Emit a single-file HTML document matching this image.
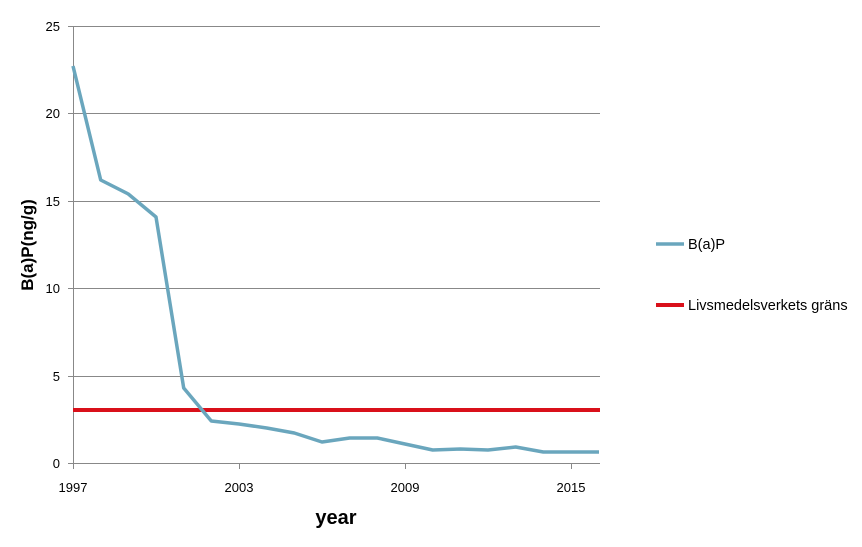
<!DOCTYPE html>
<html><head><meta charset="utf-8"><style>
body{margin:0;background:#fff;}
svg text{font-family:"Liberation Sans",sans-serif;}
</style></head><body>
<svg width="862" height="542" viewBox="0 0 862 542" xmlns="http://www.w3.org/2000/svg">
<g stroke="#888" stroke-width="1">
<line x1="73" y1="26.5" x2="600" y2="26.5"/>
<line x1="73" y1="113.5" x2="600" y2="113.5"/>
<line x1="73" y1="201.5" x2="600" y2="201.5"/>
<line x1="73" y1="288.5" x2="600" y2="288.5"/>
<line x1="73" y1="376.5" x2="600" y2="376.5"/>
<line x1="73" y1="463.5" x2="600" y2="463.5"/>
<line x1="73.5" y1="26" x2="73.5" y2="463"/>
<line x1="68" y1="26.5" x2="73" y2="26.5"/>
<line x1="68" y1="113.5" x2="73" y2="113.5"/>
<line x1="68" y1="201.5" x2="73" y2="201.5"/>
<line x1="68" y1="288.5" x2="73" y2="288.5"/>
<line x1="68" y1="376.5" x2="73" y2="376.5"/>
<line x1="68" y1="463.5" x2="73" y2="463.5"/>
<line x1="73.5" y1="463" x2="73.5" y2="469"/>
<line x1="239.5" y1="463" x2="239.5" y2="469"/>
<line x1="405.5" y1="463" x2="405.5" y2="469"/>
<line x1="571.5" y1="463" x2="571.5" y2="469"/>
</g>
<g font-size="13" fill="#000" text-anchor="end">
<text x="60" y="31">25</text><text x="60" y="118">20</text><text x="60" y="206">15</text>
<text x="60" y="293">10</text><text x="60" y="381">5</text><text x="60" y="468">0</text>
</g>
<g font-size="13" fill="#000" text-anchor="middle">
<text x="73" y="492">1997</text><text x="239" y="492">2003</text><text x="405" y="492">2009</text><text x="571" y="492">2015</text>
</g>
<text x="336" y="524" font-size="20" font-weight="bold" text-anchor="middle">year</text>
<text transform="translate(33,245) rotate(-90)" font-size="17" font-weight="bold" text-anchor="middle">B(a)P(ng/g)</text>
<line x1="73" y1="410" x2="600" y2="410" stroke="#d9101a" stroke-width="4"/>
<polyline fill="none" stroke="#6aa6bd" stroke-width="3.5" stroke-linejoin="round" points="73,66 100.7,180 128.3,194 156,217 183.7,388 211.3,421 239,424 266.7,428 294.3,433 322,442 349.7,438 377.3,438 405,444 432.7,450 460.3,449 488,450 515.7,447 543.3,452 571,452 599,452"/>
<line x1="656" y1="244" x2="684" y2="244" stroke="#6aa6bd" stroke-width="3.5"/>
<text x="688" y="249" font-size="14.5">B(a)P</text>
<line x1="656" y1="305" x2="684" y2="305" stroke="#d9101a" stroke-width="4"/>
<text x="688" y="310" font-size="14.5">Livsmedelsverkets gräns</text>
</svg>
</body></html>
